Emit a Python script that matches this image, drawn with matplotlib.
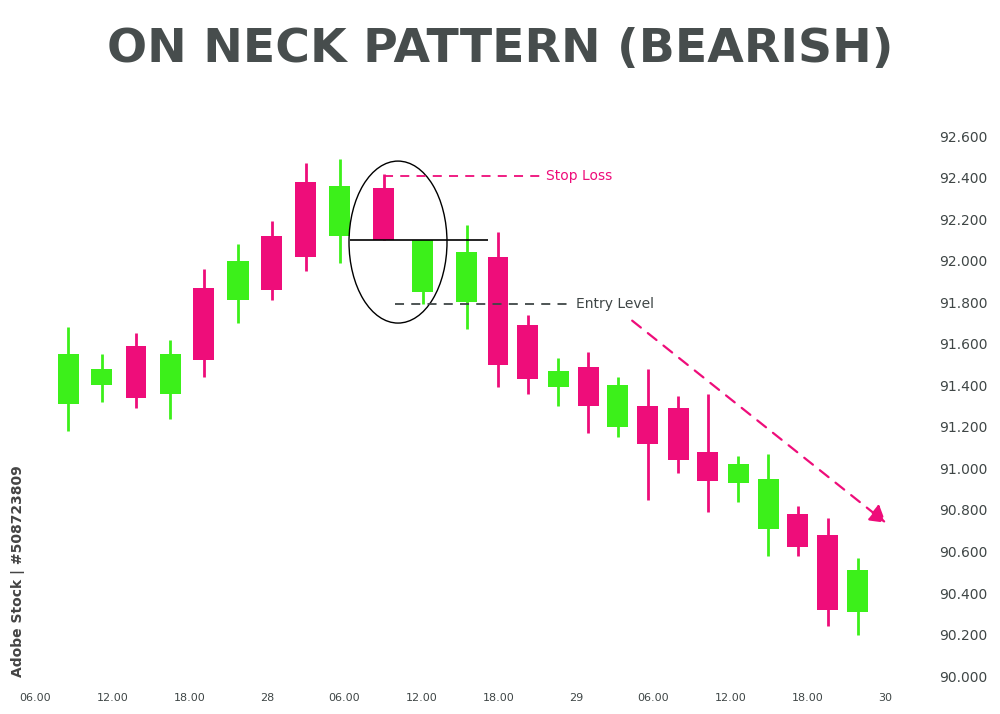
import matplotlib
matplotlib.use("Agg")
import matplotlib.pyplot as plt
from matplotlib.patches import Ellipse, FancyArrowPatch

# time positions in hours from first tick (06.00 day 27)
xpix = [68,102,136,170,204,238,272,306,340,384,423,467,498,528,558,588,618,648,678,708,738,768,798,828,858]
x = [(p-35)/77.3*6 for p in xpix]
opens  = [91.31,91.40,91.59,91.36,91.87,91.81,92.12,92.38,92.12,92.35,91.85,91.80,92.02,91.69,91.39,91.49,91.20,91.30,91.29,91.08,90.93,90.71,90.78,90.68,90.31]
closes = [91.55,91.48,91.34,91.55,91.52,92.00,91.86,92.02,92.36,92.10,92.10,92.04,91.50,91.43,91.47,91.30,91.40,91.12,91.04,90.94,91.02,90.95,90.62,90.32,90.51]
highs  = [91.68,91.55,91.65,91.62,91.96,92.08,92.19,92.47,92.49,92.42,92.10,92.17,92.14,91.74,91.53,91.56,91.44,91.48,91.35,91.36,91.06,91.07,90.82,90.76,90.57]
lows   = [91.18,91.32,91.29,91.24,91.44,91.70,91.81,91.95,91.99,92.10,91.79,91.67,91.39,91.36,91.30,91.17,91.15,90.85,90.98,90.79,90.84,90.58,90.58,90.24,90.20]
xtick_pos = [0,6,12,18,24,30,36,42,48,54,60,66]
xtick_labels = ["06.00","12.00","18.00","28","06.00","12.00","18.00","29","06.00","12.00","18.00","30"]
ytick_vals = [90.0,90.2,90.4,90.6,90.8,91.0,91.2,91.4,91.6,91.8,92.0,92.2,92.4,92.6]

PINK = "#ee0d7a"; GREEN = "#3cf01a"; DARK = "#3f4646"
fig = plt.figure(figsize=(10,7.14), dpi=100)
ax = fig.add_axes([0.03, 0.0336, 0.87, 0.826])
hr = 6/77.3
ax.set_xlim((30-35)*hr, (900-35)*hr)
ax.set_ylim(89.933, 92.773)
w = 21*hr
for xi,o,c,h,l in zip(x,opens,closes,highs,lows):
    col = GREEN if c >= o else PINK
    ax.vlines(xi, l, h, color=col, lw=2, zorder=2)
    ax.bar(xi, abs(c-o), bottom=min(o,c), width=w, color=col, zorder=3)

# annotations
ax.add_patch(Ellipse(((398-35)*hr, 92.09), 98*hr, 0.78, fill=False, ec="black", lw=1, zorder=4))
ax.hlines(92.10, (350-35)*hr, (488-35)*hr, color="black", lw=1.2, zorder=4)
ax.hlines(92.41, (384-35)*hr, (540-35)*hr, color=PINK, lw=1.3, ls=(0,(5,4)), zorder=4)
ax.text((546-35)*hr, 92.41, "Stop Loss", color=PINK, fontsize=10, va="center")
ax.hlines(91.79, (395-35)*hr, (570-35)*hr, color=DARK, lw=1.3, ls=(0,(5,4)), zorder=4)
ax.text((576-35)*hr, 91.79, "Entry Level", color=DARK, fontsize=10, va="center")
ax.add_patch(FancyArrowPatch(((630-35)*hr, 91.72), ((888-35)*hr, 90.73),
             arrowstyle="-|>,head_length=10,head_width=6", color=PINK, lw=1.6,
             ls=(0,(5,4)), mutation_scale=1, zorder=4))

for s in ax.spines.values():
    s.set_visible(False)
ax.yaxis.tick_right()
ax.set_yticks(ytick_vals)
ax.set_yticklabels([f"{v:.3f}" for v in ytick_vals], fontsize=10, color=DARK)
ax.set_xticks(xtick_pos)
ax.set_xticklabels(xtick_labels, fontsize=8, color=DARK)
ax.tick_params(axis="y", length=0, pad=28)
ax.tick_params(axis="x", length=0, pad=2)

fig.text(0.5, 0.93, "ON NECK PATTERN (BEARISH)", ha="center", va="center",
         fontsize=34, fontweight="heavy", color="#474d4d", family="DejaVu Sans")
fig.text(0.018, 0.2, "Adobe Stock | #508723809", rotation=90, ha="center", va="center",
         fontsize=10, fontweight="bold", color="#444444")
fig.savefig("out.png", dpi=100)
